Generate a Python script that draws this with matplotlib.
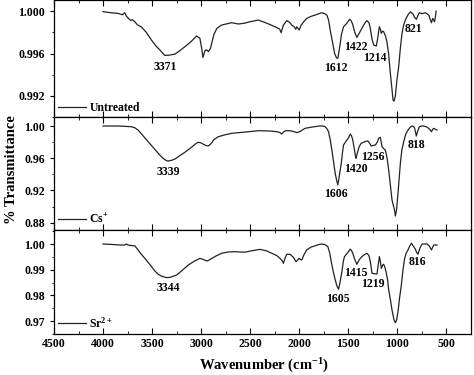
import matplotlib
matplotlib.use('Agg')
import matplotlib.pyplot as plt
from matplotlib.ticker import MultipleLocator, FormatStrFormatter

plt.rcParams['font.family'] = 'Liberation Serif'
plt.rcParams['font.weight'] = 'bold'
plt.rcParams['mathtext.fontset'] = 'custom'
plt.rcParams['mathtext.rm'] = 'Liberation Serif:bold'
plt.rcParams['mathtext.it'] = 'Liberation Serif:bold'
plt.rcParams['mathtext.bf'] = 'Liberation Serif:bold'

# --- data ---
wn_untreated = [4000, 3950, 3900, 3850, 3820, 3800, 3780, 3760, 3740, 3720, 3700, 3676, 3650, 3609,
                3560, 3507, 3460, 3421, 3371, 3330, 3268, 3220, 3166, 3100, 3047, 3013, 2995, 2982,
                2962, 2945, 2925, 2905, 2870, 2840, 2792, 2690, 2621, 2560, 2500, 2417, 2330, 2247,
                2200, 2185, 2162, 2128, 2100, 2077, 2050, 2036, 2026, 2001, 1981, 1950, 1924, 1880,
                1839, 1800, 1770, 1740, 1719, 1700, 1685, 1660, 1640, 1620, 1607, 1590, 1570, 1549,
                1520, 1487, 1470, 1457, 1435, 1413, 1390, 1362, 1330, 1311, 1290, 1276, 1260, 1242,
                1215, 1200, 1184, 1174, 1164, 1152, 1140, 1120, 1107, 1090, 1072, 1055, 1045, 1035,
                1021, 1005, 987, 970, 953, 936, 919, 895, 868, 841, 825, 807, 790, 776, 750, 730,
                715, 695, 680, 665, 653, 640, 630, 622, 612, 606]
t_untreated = [0.99994, 0.99988, 0.99982, 0.99978, 0.99970, 0.99965, 0.99984, 0.99950, 0.99930,
               0.99912, 0.99918, 0.99899, 0.99870, 0.99850, 0.99800, 0.99727, 0.99670, 0.99633,
               0.99582, 0.99584, 0.99594, 0.99625, 0.99664, 0.99715, 0.99765, 0.99743, 0.99650,
               0.99562, 0.99626, 0.99635, 0.99618, 0.99650, 0.99780, 0.99837, 0.99868, 0.99890,
               0.99878, 0.99885, 0.99900, 0.99915, 0.99885, 0.99852, 0.99830, 0.99796, 0.99868,
               0.99909, 0.99895, 0.99868, 0.99850, 0.99828, 0.99852, 0.99821, 0.99868, 0.99905,
               0.99931, 0.99950, 0.99962, 0.99975, 0.99984, 0.99975, 0.99962, 0.99910, 0.99821,
               0.99700, 0.99600, 0.99558, 0.99555, 0.99650, 0.99780, 0.99852, 0.99880, 0.99922,
               0.99905, 0.99878, 0.99800, 0.99752, 0.99790, 0.99837, 0.99890, 0.99909, 0.99890,
               0.99837, 0.99740, 0.99680, 0.99671, 0.99750, 0.99852, 0.99830, 0.99790, 0.99810,
               0.99805, 0.99760, 0.99711, 0.99600, 0.99414, 0.99260, 0.99163, 0.99150, 0.99200,
               0.99350, 0.99476, 0.99650, 0.99790, 0.99870, 0.99915, 0.99960, 0.99993, 0.99972,
               0.99940, 0.99922, 0.99960, 0.99984, 0.99975, 0.99980, 0.99984, 0.99972, 0.99962,
               0.99920, 0.99890, 0.99931, 0.99915, 0.99899, 0.99950, 1.00000]

wn_cs = [4000, 3850, 3780, 3711, 3680, 3643, 3600, 3540, 3490, 3438, 3390, 3353, 3339, 3300, 3268,
         3220, 3166, 3100, 3050, 3030, 3000, 2979, 2950, 2928, 2900, 2870, 2826, 2760, 2690, 2550,
         2417, 2300, 2230, 2200, 2179, 2160, 2138, 2110, 2077, 2050, 2026, 2010, 1992, 1970, 1941,
         1880, 1830, 1787, 1760, 1736, 1715, 1702, 1685, 1668, 1650, 1634, 1620, 1607, 1590, 1572,
         1560, 1549, 1530, 1515, 1495, 1481, 1468, 1455, 1440, 1425, 1421, 1410, 1390, 1370, 1345,
         1320, 1301, 1285, 1267, 1245, 1225, 1205, 1191, 1174, 1165, 1157, 1140, 1123, 1105, 1089,
         1072, 1055, 1038, 1030, 1021, 1010, 994, 982, 970, 955, 936, 915, 892, 870, 851, 836, 824,
         807, 795, 776, 755, 732, 705, 681, 665, 653, 640, 630, 615, 596]
t_cs = [1.000, 1.000, 0.9996, 0.9991, 0.9980, 0.995, 0.9890, 0.9805, 0.9735, 0.9661, 0.9600, 0.9570,
        0.9565, 0.9575, 0.9590, 0.9630, 0.9674, 0.9735, 0.9785, 0.9798, 0.9790, 0.9775, 0.9757,
        0.9752, 0.9780, 0.9830, 0.9867, 0.9890, 0.9909, 0.9925, 0.9942, 0.9938, 0.9930, 0.9920,
        0.9901, 0.9925, 0.9942, 0.9942, 0.9938, 0.9928, 0.9917, 0.9925, 0.9930, 0.9950, 0.9971,
        0.9985, 0.9994, 1.000, 1.000, 0.9991, 0.9960, 0.993, 0.983, 0.970, 0.955, 0.941, 0.933,
        0.9268, 0.940, 0.9537, 0.967, 0.9764, 0.980, 0.9826, 0.9860, 0.990, 0.988, 0.9826, 0.972,
        0.9605, 0.9599, 0.966, 0.9743, 0.9785, 0.9798, 0.9812, 0.9814, 0.9790, 0.9752, 0.9760,
        0.9764, 0.9800, 0.9847, 0.9860, 0.980, 0.9743, 0.972, 0.970, 0.960, 0.9454, 0.927, 0.9082,
        0.8999, 0.896, 0.8883, 0.895, 0.9165, 0.935, 0.9537, 0.970, 0.9805, 0.990, 0.995, 0.9985,
        1.000, 0.9995, 0.9971, 0.9876, 0.993, 0.9991, 1.000, 1.000, 0.999, 0.9971, 0.995, 0.993,
        0.996, 0.9971, 0.996, 0.995]

wn_sr = [4000, 3900, 3820, 3779, 3762, 3740, 3676, 3640, 3610, 3574, 3540, 3506, 3472, 3438, 3400,
         3353, 3320, 3280, 3251, 3200, 3132, 3070, 3013, 2979, 2950, 2935, 2900, 2860, 2792, 2720,
         2656, 2554, 2480, 2400, 2340, 2281, 2230, 2196, 2175, 2162, 2145, 2128, 2094, 2060, 2033,
         2003, 1990, 1975, 1950, 1924, 1880, 1839, 1800, 1770, 1740, 1709, 1690, 1674, 1655, 1634,
         1615, 1600, 1585, 1566, 1550, 1539, 1510, 1481, 1468, 1455, 1435, 1413, 1390, 1362, 1330,
         1311, 1290, 1276, 1259, 1230, 1208, 1195, 1184, 1175, 1164, 1150, 1140, 1128, 1116, 1100,
         1089, 1070, 1055, 1035, 1021, 1008, 994, 978, 960, 943, 926, 910, 892, 875, 857, 838, 817,
         805, 790, 770, 749, 720, 698, 675, 653, 640, 630, 610, 596]
t_sr = [1.000, 0.9998, 0.9996, 0.9996, 1.000, 0.9995, 0.9993, 0.9975, 0.9960, 0.9944, 0.9928, 0.9912,
        0.9895, 0.9882, 0.9874, 0.9869, 0.9870, 0.9875, 0.9879, 0.9895, 0.9918, 0.9933, 0.9944,
        0.9940, 0.9935, 0.9934, 0.9942, 0.9951, 0.9964, 0.9969, 0.9970, 0.9968, 0.9974, 0.9979,
        0.9974, 0.9964, 0.9955, 0.9944, 0.9935, 0.9925, 0.9945, 0.9960, 0.9960, 0.9948, 0.9931,
        0.9944, 0.9940, 0.9938, 0.9960, 0.9977, 0.9988, 0.9993, 0.9998, 1.000, 0.9998, 0.9990,
        0.9965, 0.9931, 0.9895, 0.986, 0.9835, 0.9824, 0.9850, 0.9892, 0.9935, 0.9951, 0.9965,
        0.9980, 0.9975, 0.9964, 0.9940, 0.9921, 0.9938, 0.9951, 0.9960, 0.9964, 0.9955, 0.9931,
        0.9886, 0.9884, 0.9883, 0.9920, 0.9951, 0.9935, 0.9905, 0.9918, 0.9921, 0.9910, 0.9892,
        0.9860, 0.9821, 0.9780, 0.9743, 0.9705, 0.9693, 0.9705, 0.9736, 0.9790, 0.984, 0.990,
        0.9944, 0.9965, 0.9977, 0.9992, 1.0003, 0.9992, 0.998, 0.9968, 0.996, 0.9985, 1.000, 1.000,
        1.000, 0.9992, 0.9977, 0.9988, 0.9996, 0.9996, 0.9996]

# peak labels: (text, wavenumber, transmittance)
peaks_untreated = [('3371', 3370, 0.99476), ('1612', 1630, 0.99461), ('1422', 1419, 0.99664),
                   ('1214', 1232, 0.99555), ('821', 833, 0.99828)]
peaks_cs = [('3339', 3336, 0.9433), ('1606', 1623, 0.9152), ('1420', 1423, 0.9463),
            ('1256', 1252, 0.9619), ('818', 806, 0.9764)]
peaks_sr = [('3344', 3336, 0.9830), ('1605', 1610, 0.9785), ('1415', 1423, 0.9888),
            ('1219', 1250, 0.9844), ('816', 800, 0.9931)]

names = ['Untreated', 'Cs$^{+}$', 'Sr$^{2+}$']

fig = plt.figure(figsize=(4.74, 3.75), dpi=100)
L, W = 54 / 474, 417 / 474
# (top px, bottom px) for each panel
rows = [(0, 117.3), (117.3, 229.5), (229.5, 334)]
ylims = [(0.98999, 1.00104), (0.8716, 1.0108), (0.96494, 1.00565)]
majors = [0.004, 0.04, 0.01]
fmts = ['%.3f', '%.2f', '%.2f']
series = [(wn_untreated, t_untreated, peaks_untreated),
          (wn_cs, t_cs, peaks_cs),
          (wn_sr, t_sr, peaks_sr)]

for i, (wn, t, peaks) in enumerate(series):
    top, bot = rows[i]
    ax = fig.add_axes([L, 1 - bot / 375, W, (bot - top) / 375])
    ax.plot(wn, t, color='#222222', lw=0.9, label=names[i])
    ax.set_xlim(4500, 250)
    ax.set_ylim(*ylims[i])
    ax.xaxis.set_major_locator(MultipleLocator(500))
    ax.xaxis.set_minor_locator(MultipleLocator(250))
    ax.yaxis.set_major_locator(MultipleLocator(majors[i]))
    ax.yaxis.set_minor_locator(MultipleLocator(majors[i] / 2))
    ax.yaxis.set_major_formatter(FormatStrFormatter(fmts[i]))
    ax.tick_params(axis='x', which='both', direction='in', top=True, bottom=True)
    ax.tick_params(axis='x', which='major', length=4)
    ax.tick_params(axis='x', which='minor', length=2)
    ax.tick_params(axis='y', which='major', direction='out', length=3, labelsize=8.5)
    ax.tick_params(axis='y', which='minor', direction='out', length=1.5)
    ax.tick_params(axis='x', labelsize=8.5, pad=3)
    if i < 2:
        ax.tick_params(axis='x', labelbottom=False)
    for s in ax.spines.values():
        s.set_linewidth(0.9)
    for txt, x, y in peaks:
        ax.text(x, y, txt, ha='center', va='center', fontsize=8.5, fontweight='bold')
    ax.legend(loc='lower left', frameon=False, fontsize=8.5, handlelength=2.4,
              handletextpad=0.3, borderaxespad=0.2, borderpad=0.1)

fig.text(264 / 474, 1 - 366 / 375, 'Wavenumber (cm$^{-1}$)', ha='center', va='center',
         fontsize=10.5, fontweight='bold')
fig.text(12 / 474, 1 - 170 / 375, '% Transmittance', ha='center', va='center',
         rotation=90, fontsize=10.5, fontweight='bold')

fig.savefig('out.png', dpi=100)
